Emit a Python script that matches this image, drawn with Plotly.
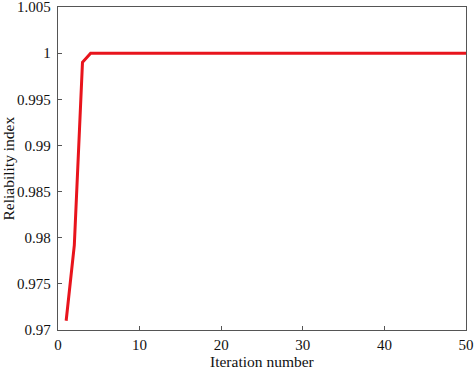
import plotly.graph_objects as go

iterations = list(range(1, 51))
reliability = [0.971, 0.9792, 0.999] + [1.0] * 47

x_ticks = [0, 10, 20, 30, 40, 50]
y_ticks = [0.97, 0.975, 0.98, 0.985, 0.99, 0.995, 1.0, 1.005]
y_labels = ["0.97", "0.975", "0.98", "0.985", "0.99", "0.995", "1", "1.005"]

fig = go.Figure()
fig.add_trace(go.Scatter(x=iterations, y=reliability, mode="lines",
                         line=dict(color="#e8141c", width=3)))

font = dict(family="Liberation Serif, Times New Roman, serif", size=15, color="#111")
axis_common = dict(showgrid=False, zeroline=False, showline=True, mirror=True,
                   linecolor="#555", linewidth=1.3, ticks="inside", ticklen=4,
                   tickcolor="#555", tickfont=dict(size=15),
                   ticklabeloverflow="allow", automargin=False)
fig.update_layout(
    width=474, height=370,
    margin=dict(l=58, r=8, t=7, b=40),
    paper_bgcolor="white", plot_bgcolor="white",
    font=font, showlegend=False,
    xaxis=dict(range=[0, 50], tickvals=x_ticks, ticklabelstandoff=1, **axis_common),
    yaxis=dict(range=[0.97, 1.005], tickvals=y_ticks, ticktext=y_labels,
               ticklabelstandoff=3, **axis_common),
    annotations=[
        dict(text="Iteration number", xref="paper", yref="paper", x=0.5, y=0,
             yshift=-31, xanchor="center", yanchor="middle", showarrow=False,
             borderpad=0, font=dict(size=15.5)),
        dict(text="Reliability index", xref="paper", yref="paper", x=0, y=0.5,
             xshift=-50, xanchor="center", yanchor="middle", textangle=-90,
             showarrow=False, borderpad=0, font=dict(size=15.5)),
    ],
)
fig.write_html("out.html")
